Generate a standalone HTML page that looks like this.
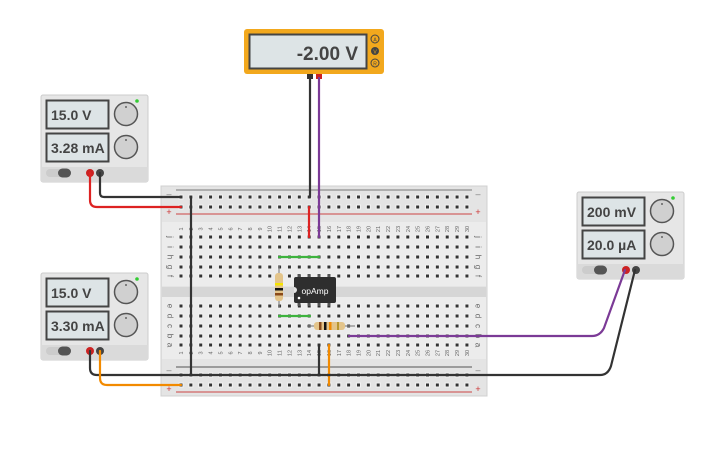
<!DOCTYPE html>
<html><head><meta charset="utf-8"><style>
html,body{margin:0;padding:0;background:#fff;width:725px;height:453px;overflow:hidden}
svg{display:block;font-family:"Liberation Sans",sans-serif}
</style></head><body>
<svg id="s" width="725" height="453" viewBox="0 0 725 453" xmlns="http://www.w3.org/2000/svg">
<rect x="161" y="186" width="326" height="210" fill="#e4e4e4" stroke="#d0d0d0"/>
<rect x="162" y="222" width="324" height="64" fill="#ececec"/>
<rect x="162" y="297" width="324" height="62" fill="#ececec"/>
<rect x="162" y="287" width="324" height="10" fill="#d6d6d6"/>
<line x1="176" y1="190" x2="472" y2="190" stroke="#777" stroke-width="1"/>
<line x1="176" y1="214" x2="472" y2="214" stroke="#c44" stroke-width="1"/>
<line x1="176" y1="367" x2="472" y2="367" stroke="#555" stroke-width="1"/>
<line x1="176" y1="392" x2="472" y2="392" stroke="#c44" stroke-width="1"/>
<text x="169" y="197" font-size="9" fill="#777" text-anchor="middle">–</text>
<text x="478" y="197" font-size="9" fill="#777" text-anchor="middle">–</text>
<text x="169" y="215" font-size="9" fill="#c33" text-anchor="middle">+</text>
<text x="478" y="215" font-size="9" fill="#c33" text-anchor="middle">+</text>
<text x="169" y="373" font-size="9" fill="#777" text-anchor="middle">–</text>
<text x="478" y="373" font-size="9" fill="#777" text-anchor="middle">–</text>
<text x="169" y="392" font-size="9" fill="#c33" text-anchor="middle">+</text>
<text x="478" y="392" font-size="9" fill="#c33" text-anchor="middle">+</text>
<g id="holes"></g>

<g id="ps1" transform="translate(41,95)"></g>
<g id="ps2" transform="translate(41,273)"></g>
<g id="ps3" transform="translate(577,192)"></g>

<rect x="244" y="29" width="140" height="45" rx="3" fill="#f2a81d"/>
<rect x="249.5" y="34.5" width="117" height="34" fill="#dde4e6" stroke="#444" stroke-width="2"/>
<text x="358" y="60" font-size="19" font-weight="bold" fill="#444" text-anchor="end">-2.00 V</text>
<circle cx="375" cy="39" r="4" fill="none" stroke="#444"/><text x="375" y="41.5" font-size="5" text-anchor="middle" fill="#444">A</text>
<circle cx="375" cy="51" r="4" fill="#444"/><text x="375" y="53.5" font-size="5" text-anchor="middle" fill="#f2a81d">V</text>
<circle cx="375" cy="63" r="4" fill="none" stroke="#444"/><text x="375" y="65.5" font-size="5" text-anchor="middle" fill="#444">R</text>
<rect x="307" y="74" width="6" height="5" fill="#333"/>
<rect x="316" y="74" width="6" height="5" fill="#c22"/>

<g fill="none" stroke-width="2.2" stroke-linecap="round">
<path d="M90,173 V200 Q90,207 97,207 H181" stroke="#dd2222"/>
<path d="M100,173 V193 Q100,197 104,197 H181" stroke="#333"/>
<path d="M310,78 V197" stroke="#333"/>
<path d="M319,78 V237" stroke="#7b3a96"/>
<path d="M309,207 V237" stroke="#dd2222"/>
<path d="M191,197 V375" stroke="#333"/>
<path d="M279,257 H319" stroke="#3db33d"/>
<path d="M279,316 H310" stroke="#3db33d"/>
<path d="M319,345 V375" stroke="#333"/>
<path d="M329,345 V385" stroke="#f28a00"/>
<path d="M349,336 H592 Q600,336 604,328 L625,270" stroke="#7b3a96"/>
<path d="M181,375 H600 Q608,375 611,366 L635,270" stroke="#333"/>
<path d="M90,351 V368 Q90,375 97,375 H181" stroke="#333"/>
<path d="M100,351 V378 Q100,385 107,385 H181" stroke="#f28a00"/>
</g>

<line x1="279" y1="266" x2="279" y2="307" stroke="#888" stroke-width="1.2"/>
<rect x="275" y="273" width="8" height="28" rx="3" fill="#e3c48a"/>
<rect x="275" y="283" width="8" height="2.5" fill="#f5e400"/>
<rect x="275" y="288" width="8" height="2.5" fill="#111"/>
<rect x="275" y="293" width="8" height="2.5" fill="#8a4a1a"/>
<line x1="307" y1="326" x2="355" y2="326" stroke="#888" stroke-width="1.2"/>
<rect x="314" y="322" width="31" height="8" rx="3" fill="#e3c48a"/>
<rect x="319" y="322" width="2.5" height="8" fill="#8a4a1a"/>
<rect x="324" y="322" width="2.5" height="8" fill="#111"/>
<rect x="329" y="322" width="2.5" height="8" fill="#f28a00"/>
<rect x="337" y="322" width="2" height="8" fill="#b8962e"/>

<g fill="#555">
<rect x="297.5" y="274" width="3" height="4"/><rect x="307.5" y="274" width="3" height="4"/><rect x="317.5" y="274" width="3" height="4"/><rect x="327.5" y="274" width="3" height="4"/>
<rect x="297.5" y="302" width="3" height="4"/><rect x="307.5" y="302" width="3" height="4"/><rect x="317.5" y="302" width="3" height="4"/><rect x="327.5" y="302" width="3" height="4"/>
</g>
<rect x="294" y="277" width="42" height="26" rx="2" fill="#2e2e2e"/>
<path d="M294,287 a3,3 0 0 1 0,6 z" fill="#e4e4e4"/>
<circle cx="299" cy="298" r="1.3" fill="#fff"/>
<text x="315" y="294" font-size="8.5" fill="#fff" text-anchor="middle">opAmp</text>
</svg>
<script>
const NS="http://www.w3.org/2000/svg";
function el(p,t,a,txt){const e=document.createElementNS(NS,t);for(const k in a)e.setAttribute(k,a[k]);if(txt!==undefined)e.textContent=txt;p.appendChild(e);return e;}
const H=document.getElementById('holes');
const cx=i=>181+i*9.86;
const rows=[197,207,237,247,257,267,276,306,316,326,336,345,375,385];
for(const y of rows)for(let i=0;i<30;i++){el(H,'rect',{x:cx(i)-2.5,y:y-2.5,width:5,height:5,fill:'#f2f2f2'});el(H,'rect',{x:cx(i)-1.5,y:y-1.5,width:3,height:3,fill:'#333'});}
for(let i=0;i<30;i++){
 for(const y of [229,353]){el(H,'text',{x:cx(i),y:y,'font-size':5.5,fill:'#666','text-anchor':'middle',transform:`rotate(-90 ${cx(i)} ${y})`,dy:2},String(i+1));}
}
const L1=['j','i','h','g','f'],L2=['e','d','c','b','a'];
[[L1,[237,247,257,267,276]],[L2,[306,316,326,336,345]]].forEach(([L,ys])=>{L.forEach((l,k)=>{for(const x of [170,478]){el(H,'text',{x:x,y:ys[k],'font-size':8,fill:'#666','text-anchor':'middle',dy:2.5,transform:`rotate(90 ${x} ${ys[k]})`},l);}});});
function ps(id,t1,t2){
 const g=document.getElementById(id);
 el(g,'rect',{x:0,y:0,width:107,height:87,rx:2,fill:'#e6e6e6',stroke:'#ccc'});
 el(g,'rect',{x:0,y:72,width:107,height:15,fill:'#dadada'});
 for(const [y,t] of [[5,t1],[38,t2]]){
  el(g,'rect',{x:5.5,y:y+0.5,width:62,height:28,fill:'#dde4e6',stroke:'#444','stroke-width':2});
  el(g,'text',{x:10,y:y+20,'font-size':14,'font-weight':'bold',fill:'#444'},t);
 }
 for(const y of [19,52]){el(g,'circle',{cx:85,cy:y,r:11.5,fill:'#d0d0d0',stroke:'#555','stroke-width':1.5});
  el(g,'circle',{cx:85,cy:y-7,r:0.9,fill:'#444'});}
 el(g,'circle',{cx:96,cy:6,r:1.8,fill:'#3c3'});
 el(g,'rect',{x:5,y:74,width:25,height:8,rx:4,fill:'#ccc'});
 el(g,'rect',{x:17,y:73.5,width:13,height:9,rx:4.5,fill:'#555'});
 el(g,'circle',{cx:49,cy:78,r:4,fill:'#c22'});
 el(g,'circle',{cx:59,cy:78,r:4,fill:'#444'});
}
ps('ps1','15.0 V','3.28 mA');ps('ps2','15.0 V','3.30 mA');ps('ps3','200 mV','20.0 µA');
</script>
</body></html>
